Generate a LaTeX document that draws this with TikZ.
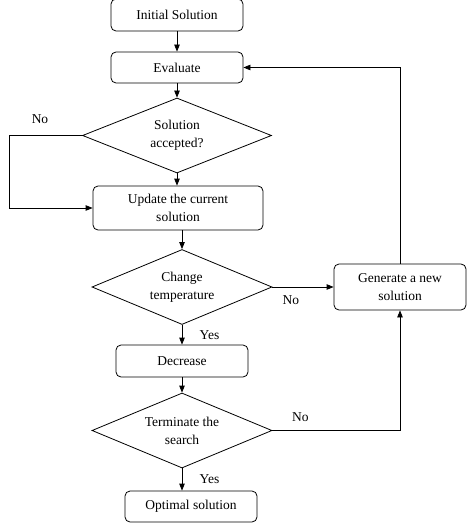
\documentclass[tikz,border=0pt]{standalone}
\usepackage{fontspec}
\setmainfont{Liberation Serif}
\usetikzlibrary{arrows.meta,shapes.geometric}

\begin{document}
\begin{tikzpicture}[x=1pt,y=-1pt,>={Triangle[length=7pt,width=5.5pt]},font=\fontsize{13.5}{18}\selectfont,line width=0.8pt]
\useasboundingbox (0,0) rectangle (474,532);
\tikzstyle{box}=[draw,rounded corners=5pt,minimum width=132pt,align=center,inner sep=2pt]
\tikzstyle{dec}=[draw,diamond,aspect=2.4,minimum width=180pt,minimum height=75pt,align=center,inner sep=2pt]
\node[box,minimum height=32pt] (init) at (177,15) {Initial Solution};
\node[box,minimum height=31pt] (eval) at (177,67.5) {Evaluate};
\node[dec,minimum width=189pt] (acc) at (177,135.5) {Solution\\ accepted?};
\node[box,minimum width=170pt,minimum height=44pt] (upd) at (178,208) {Update the current\\ solution};
\node[dec] (chg) at (182,287) {Change\\ temperature};
\node[box,minimum height=46pt] (gen) at (400,287) {Generate a new\\ solution};
\node[box,minimum height=32pt] (decr) at (182,361) {Decrease};
\node[dec] (term) at (182,430.5) {Terminate the\\ search};
\node[box,minimum height=31pt] (opt) at (191,506.5) {Optimal solution};
\node (no1) at (40,119) {No};
\draw[->] (init) -- (eval);
\draw[->] (eval) -- (acc);
\draw[->] (acc.south) -- (acc.south |- upd.north);
\draw[->] (acc.west) -- ++(-73,0) |- (upd.west);
\draw[->] (upd.south -| chg.north) -- (chg.north);
\draw[->] (chg.east) -- node[pos=0.3,below=5pt]{No} (gen.west);
\draw[->] (chg.south) -- node[right=14pt]{Yes} (decr.north);
\draw[->] (decr) -- (term);
\draw[->] (term.east) -| node[pos=0.11,above=5pt]{No} (gen.south);
\draw[->] (gen.north) |- (eval.east);
\draw[->] (term.south) -- node[right=14pt]{Yes} (term.south |- opt.north);
\end{tikzpicture}
\end{document}
